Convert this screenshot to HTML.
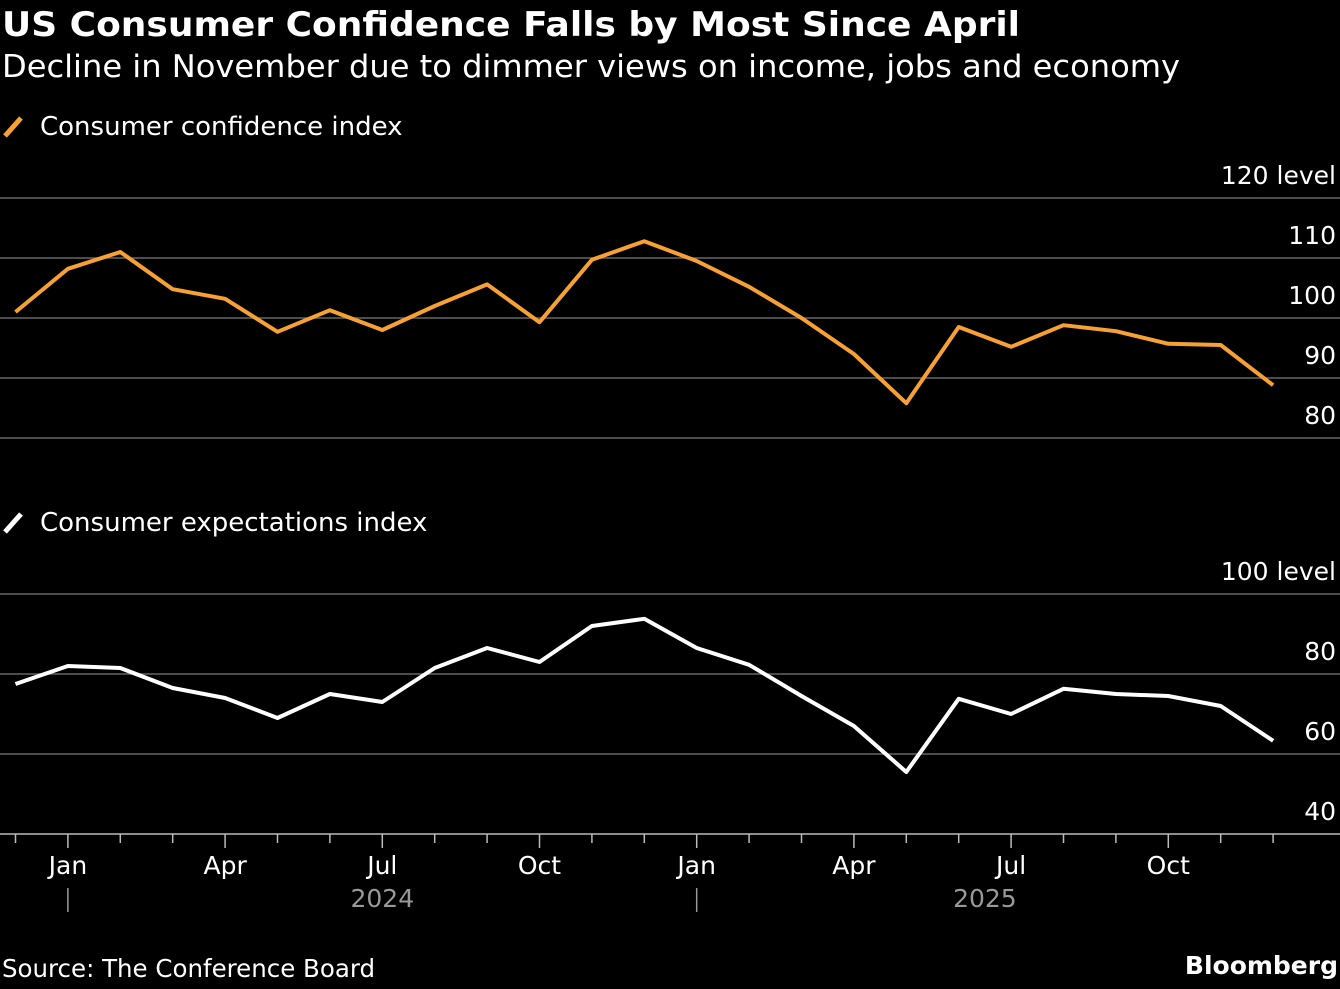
<!DOCTYPE html>
<html><head><meta charset="utf-8"><style>
body{margin:0;background:#000;width:1340px;height:984px;overflow:hidden;font-family:"Liberation Sans","DejaVu Sans",sans-serif;color:#fff}
</style></head><body>
<svg width="1340" height="984" xmlns="http://www.w3.org/2000/svg" font-family="DejaVu Sans, Liberation Sans, sans-serif">
<text x="2" y="36" font-size="34" font-weight="bold" fill="#fff" textLength="1018" lengthAdjust="spacingAndGlyphs">US Consumer Confidence Falls by Most Since April</text>
<text x="2" y="77" font-size="31" fill="#fff" textLength="1178" lengthAdjust="spacingAndGlyphs">Decline in November due to dimmer views on income, jobs and economy</text>
<line x1="5" y1="136" x2="21" y2="118" stroke="#f7a033" stroke-width="5"/>
<text x="40" y="135" font-size="26" fill="#fff">Consumer confidence index</text>
<line x1="5" y1="532" x2="21" y2="514" stroke="#fff" stroke-width="5"/>
<text x="40" y="531" font-size="26" fill="#fff">Consumer expectations index</text>
<g id="g"></g>
<text x="2" y="977" font-size="25" fill="#fff" textLength="373" lengthAdjust="spacingAndGlyphs">Source: The Conference Board</text>
<text x="1338" y="974" font-size="25" font-weight="bold" fill="#fff" text-anchor="end">Bloomberg</text>
</svg>
<script>
const confidence=[101,108.2,111,104.8,103.2,97.7,101.3,98,102,105.6,99.3,109.7,112.8,109.5,105.2,100,94,85.8,98.5,95.2,98.8,97.8,95.7,95.5,88.8];
const expectations=[77.5,82,81.5,76.5,74,69,75,73,81.5,86.5,83,92,93.8,86.5,82.3,74.5,67,55.5,73.8,70,76.3,75,74.5,72,63.3];
const topTicks=[80,90,100,110,120];
const botTicks=[40,60,80,100];
const monthLabels={1:"Jan",4:"Apr",7:"Jul",10:"Oct",13:"Jan",16:"Apr",19:"Jul",22:"Oct"};
const years=[{i:7,t:"2024"},{i:18.5,t:"2025"}];
const NS="http://www.w3.org/2000/svg",g=document.getElementById('g');
const X=i=>15.5+i*52.4;
const Yt=v=>438-(v-80)*6;
const Yb=v=>834-(v-40)*4;
function mk(t,a){const e=document.createElementNS(NS,t);for(const k in a)e.setAttribute(k,a[k]);g.appendChild(e);return e;}
topTicks.forEach(v=>{const l=mk('line',{x1:0,x2:1340,y1:Yt(v),y2:Yt(v),stroke:'#666','stroke-width':1.5});


const t=mk('text',{x:1336,y:Yt(v)-14,'font-size':25,fill:'#fff','text-anchor':'end'});t.textContent=v===120?'120 level':v;

});
botTicks.forEach(v=>{if(v>40){const l=mk('line',{x1:0,x2:1340,y1:Yb(v),y2:Yb(v),stroke:'#666','stroke-width':1.5});

}
const t=mk('text',{x:1336,y:Yb(v)-14,'font-size':25,fill:'#fff','text-anchor':'end'});t.textContent=v===100?'100 level':v;

});
const ax=mk('line',{x1:0,x2:1340,y1:834,y2:834,stroke:'#bbb','stroke-width':1.5});


for(let i=0;i<confidence.length;i++){const lab=monthLabels[i];
const tk=mk('line',{x1:X(i),x2:X(i),y1:834,y2:lab?848:843,stroke:'#bbb','stroke-width':1.5});


if(lab){const t=mk('text',{x:X(i),y:874,'font-size':25,fill:'#fff','text-anchor':'middle'});t.textContent=lab;

}}
[1,13].forEach(i=>{const l=mk('line',{x1:X(i),x2:X(i),y1:888,y2:912,stroke:'#999','stroke-width':1.5});

});
years.forEach(y=>{const t=mk('text',{x:X(y.i),y:907,'font-size':25,fill:'#999','text-anchor':'middle'});t.textContent=y.t;

});
const p1=mk('polyline',{points:confidence.map((v,i)=>X(i)+','+Yt(v)).join(' '),fill:'none',stroke:'#f7a033','stroke-width':4,'stroke-linejoin':'round'});


const p2=mk('polyline',{points:expectations.map((v,i)=>X(i)+','+Yb(v)).join(' '),fill:'none',stroke:'#fff','stroke-width':4,'stroke-linejoin':'round'});


</script>
</body></html>
